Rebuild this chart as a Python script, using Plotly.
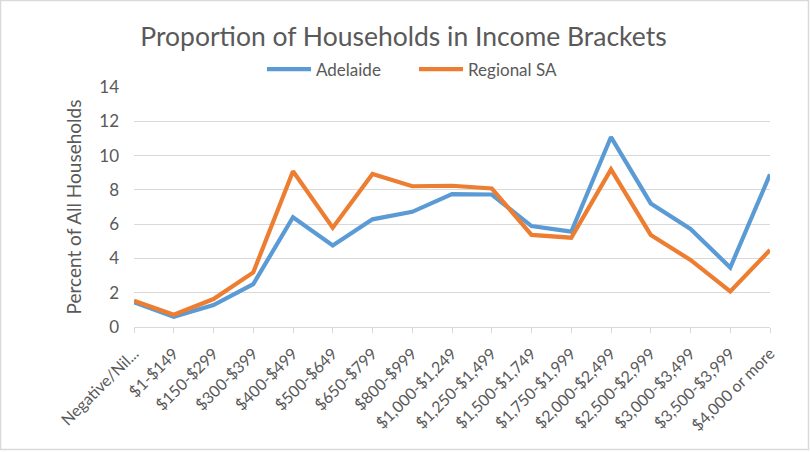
import plotly.graph_objects as go

categories = ["Negative/Nil...", "$1-$149", "$150-$299", "$300-$399", "$400-$499", "$500-$649",
              "$650-$799", "$800-$999", "$1,000-$1,249", "$1,250-$1,499", "$1,500-$1,749",
              "$1,750-$1,999", "$2,000-$2,499", "$2,500-$2,999", "$3,000-$3,499",
              "$3,500-$3,999", "$4,000 or more"]
adelaide = [1.45, 0.6, 1.28, 2.5, 6.4, 4.75, 6.28, 6.72, 7.75, 7.73, 5.89, 5.56, 11.08, 7.21, 5.72, 3.47, 8.9]
regional_sa = [1.53, 0.72, 1.63, 3.18, 9.09, 5.79, 8.93, 8.21, 8.24, 8.08, 5.37, 5.21, 9.19, 5.37, 3.91, 2.07, 4.49]

W, H = 810, 452
L, R, T, B = 134, 40, 87, 125
PW, PH = W - L - R, H - T - B
FONT = "Lato"
TXT = "#595959"
GRID = "#d9d9d9"

fig = go.Figure()
fig.add_trace(go.Scatter(x=categories, y=adelaide, mode="lines", name="Adelaide",
                         line=dict(color="#5B9BD5", width=4.2)))
fig.add_trace(go.Scatter(x=categories, y=regional_sa, mode="lines", name="Regional SA",
                         line=dict(color="#ED7D31", width=4.2)))

def px_x(p):
    return (p - L) / PW

def px_y(p):
    return (H - B - p) / PH

fig.add_shape(type="rect", xref="paper", yref="paper",
              x0=px_x(0.5), x1=px_x(808.5), y0=px_y(449.5), y1=px_y(0.5),
              line=dict(color=GRID, width=1.5), layer="below")

fig.update_layout(
    width=W, height=H,
    margin=dict(l=L, r=R, t=T, b=B),
    paper_bgcolor="white", plot_bgcolor="white",
    font=dict(family=FONT, color=TXT, size=15),
    title=dict(text="Proportion of Households in Income Brackets", x=403.5 / W, xanchor="center",
               y=1 - 37 / H, yanchor="middle", font=dict(size=26.5, color=TXT, family=FONT)),
    legend=dict(orientation="h", x=px_x(262), xanchor="left", y=px_y(69.5), yanchor="middle",
                font=dict(size=17, color=TXT), bgcolor="rgba(0,0,0,0)", itemwidth=44,
                entrywidth=93, entrywidthmode="pixels"),
    showlegend=True,
    xaxis=dict(type="category", range=[0, len(categories) - 1], showgrid=False,
               showline=True, linecolor=GRID, linewidth=1, ticks="outside", ticklen=5,
               tickcolor=GRID, tickangle=-45, tickfont=dict(size=16, color=TXT),
               ticklabelstandoff=5, zeroline=False, fixedrange=True),
    yaxis=dict(range=[0, 14], dtick=2, showgrid=True, gridcolor=GRID, gridwidth=1,
               zeroline=False, showline=False, ticks="", tickfont=dict(size=17, color=TXT),
               ticklabelstandoff=14,
               title=dict(text="Percent of All Households", font=dict(size=19, color=TXT), standoff=12)),
)

fig.write_html("out.html")
